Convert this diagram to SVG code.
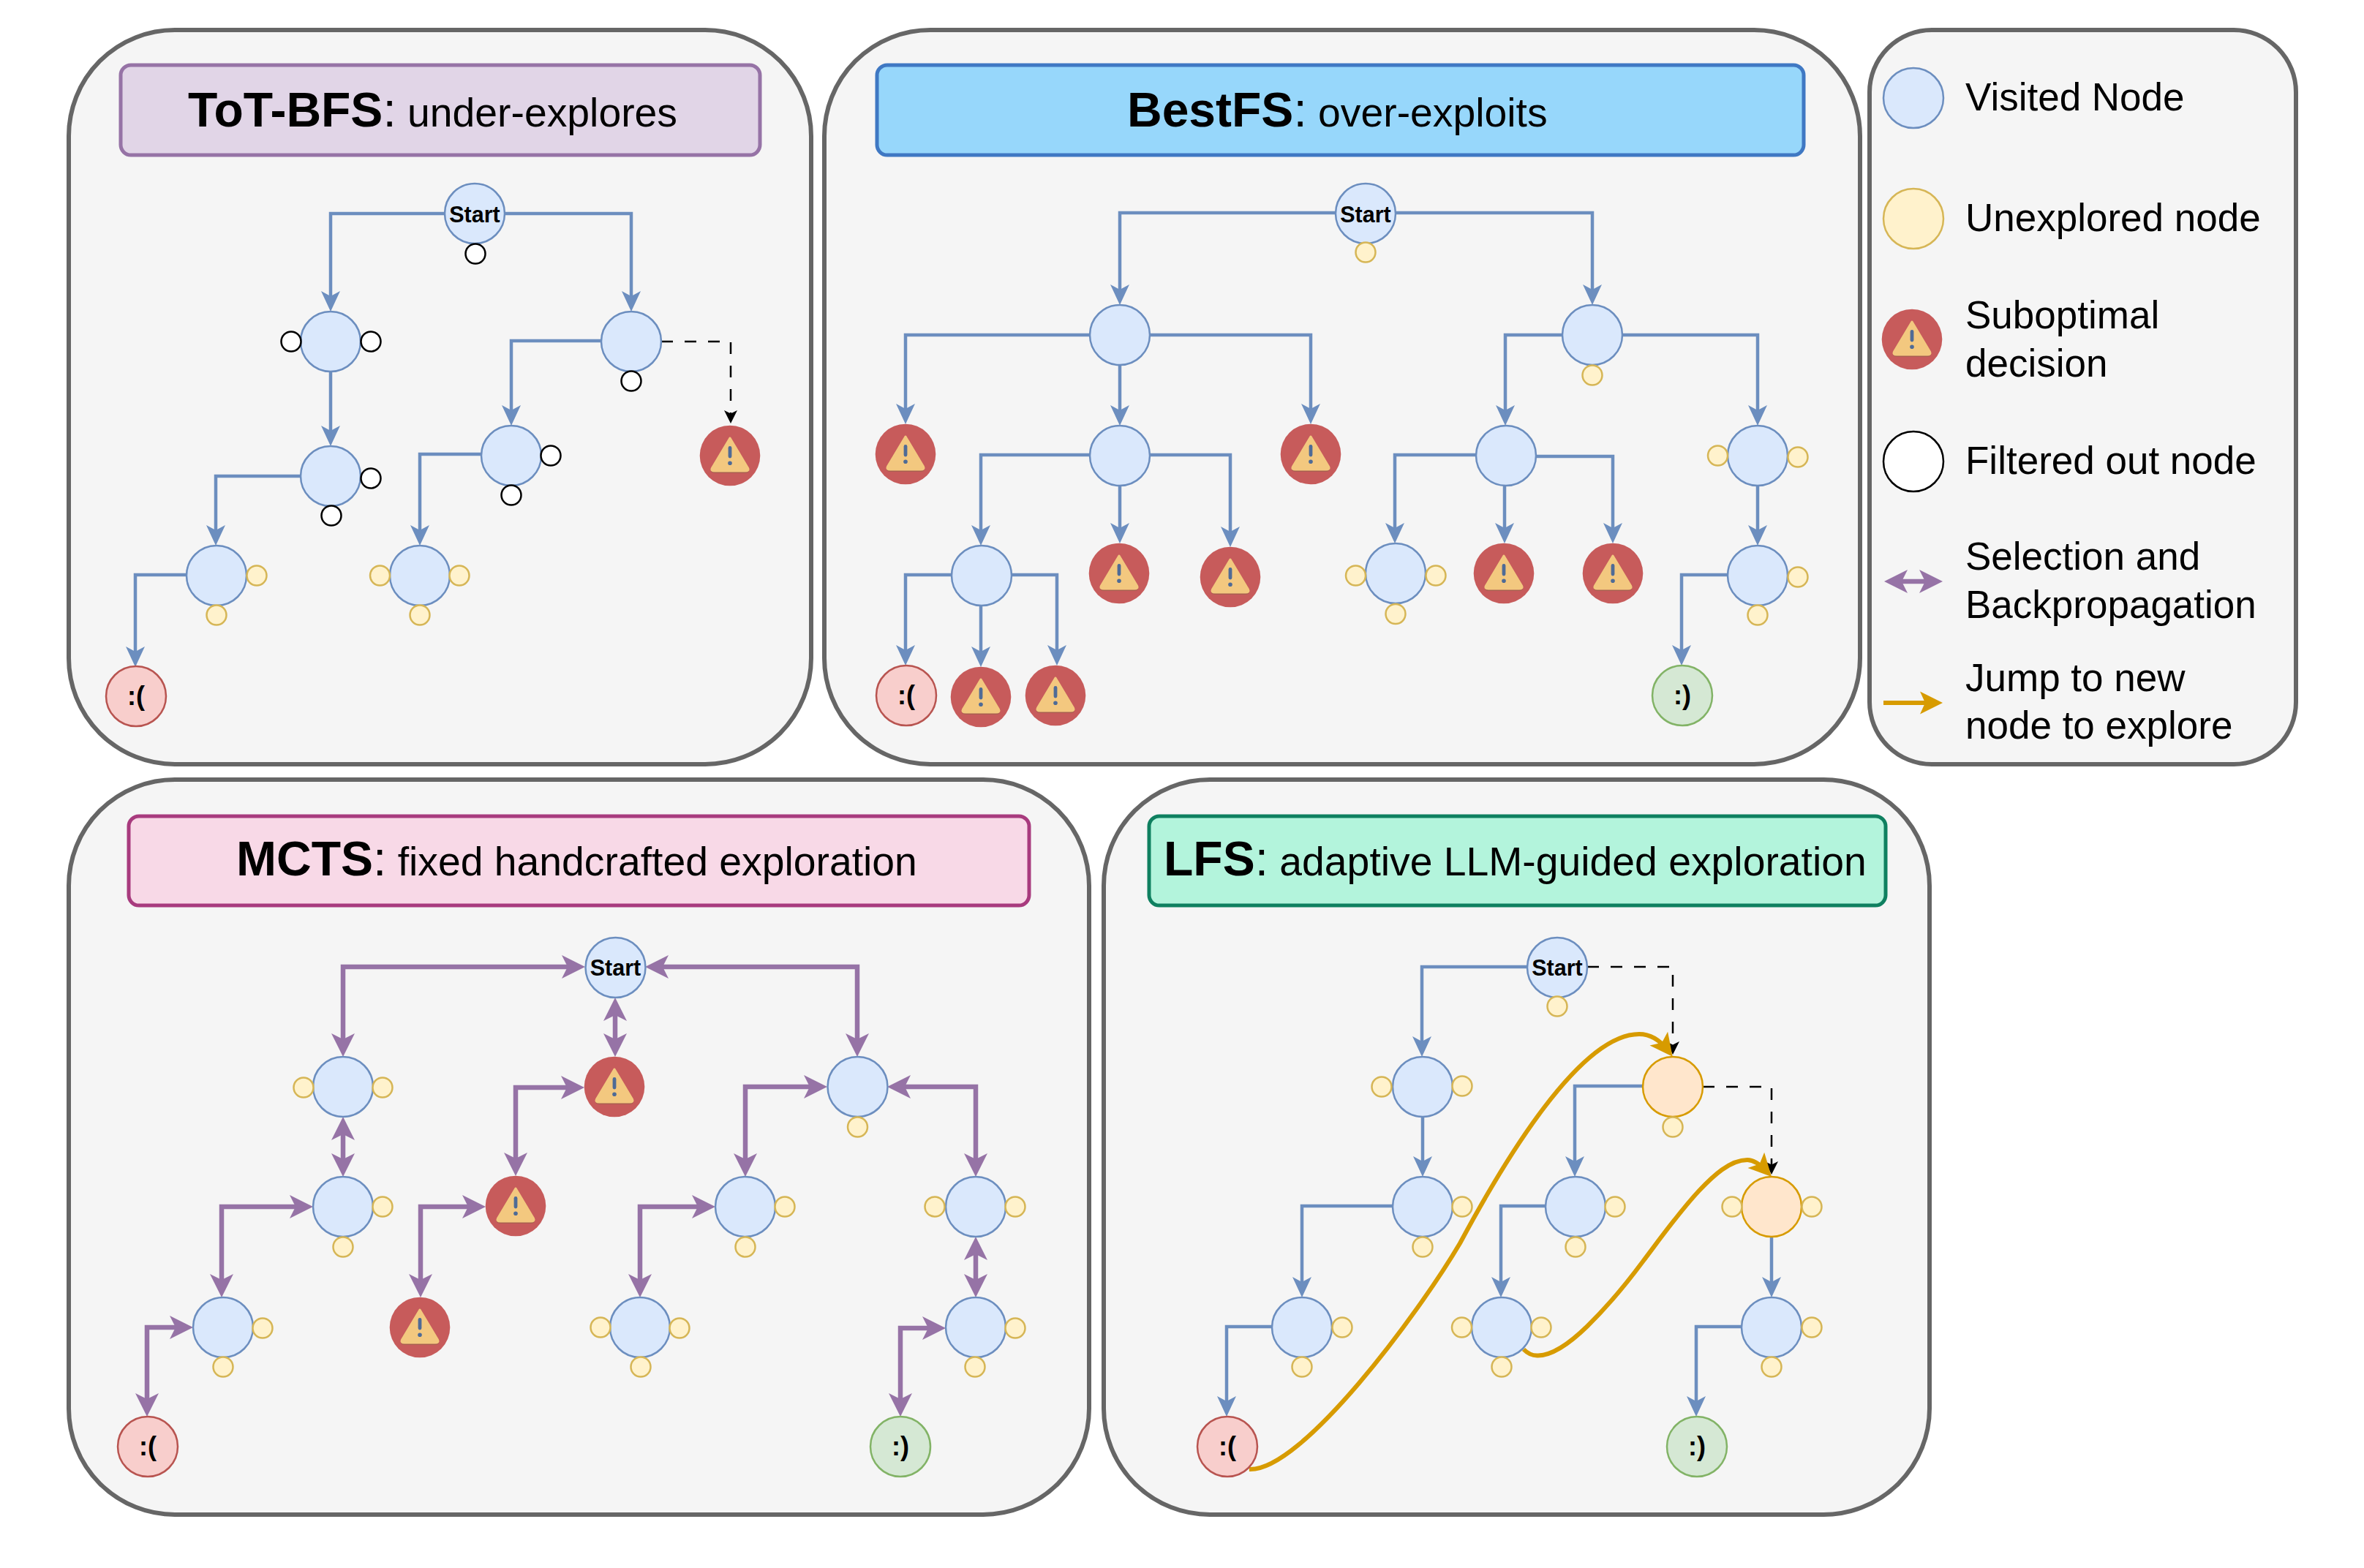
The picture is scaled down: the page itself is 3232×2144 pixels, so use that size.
<svg xmlns="http://www.w3.org/2000/svg" width="3232" height="2144" viewBox="0 0 3232 2144">
<style>
text{font-family:"Liberation Sans",Arial,sans-serif;fill:#000}
.panel{fill:#f5f5f5;stroke:#666;stroke-width:6}
.title{stroke-width:5}
.tb{font-size:66px;font-weight:700}
.tc{font-size:66px}
.tr{font-size:55.3px}
.v{fill:#dae8fc;stroke:#6c8ebf;stroke-width:2.5}
.u{fill:#fff2cc;stroke:#d6b656;stroke-width:2.5}
.f{fill:#fff;stroke:#000;stroke-width:2.5}
.o{fill:#ffe6cc;stroke:#d79b00;stroke-width:2.5}
.s{fill:#f8cecc;stroke:#b85450;stroke-width:2.5}
.h{fill:#d5e8d4;stroke:#82b366;stroke-width:2.5}
.lbl{font-size:30.5px;font-weight:700;text-anchor:middle}
.face{font-size:36px;font-weight:700;text-anchor:middle}
.leg{font-size:53px}
.b{fill:none;stroke:#6c8ebf;stroke-width:4.5;marker-end:url(#ab)}
.p{fill:none;stroke:#9673a6;stroke-width:6.5;marker-start:url(#ap);marker-end:url(#ap)}
.d{fill:none;stroke:#000;stroke-width:2.5;stroke-dasharray:16 16;marker-end:url(#ak)}
.g{fill:none;stroke:#d79b00;stroke-width:6;marker-end:url(#ag)}
</style>
<defs>
<marker id="ab" markerUnits="userSpaceOnUse" markerWidth="30" markerHeight="28" refX="20" refY="14" orient="auto"><path d="M1,1 L29,14 L1,27 L8,14 Z" fill="#6c8ebf"/></marker>
<marker id="ap" markerUnits="userSpaceOnUse" markerWidth="34" markerHeight="34" refX="22" refY="17" orient="auto-start-reverse"><path d="M1,1 L33,17 L1,33 L9,17 Z" fill="#9673a6"/></marker>
<marker id="ak" markerUnits="userSpaceOnUse" markerWidth="20" markerHeight="20" refX="14" refY="10" orient="auto"><path d="M1,1 L19,10 L1,19 L5.5,10 Z" fill="#000"/></marker>
<marker id="ag" markerUnits="userSpaceOnUse" markerWidth="33" markerHeight="33" refX="21" refY="16.5" orient="auto"><path d="M1,1 L32,16.5 L1,32 L8,16.5 Z" fill="#d79b00"/></marker>
<g id="warn">
<circle r="41.3" fill="#c75b5b"/>
<path d="M0,-24 L24.5,18 Q26.5,23 21,23 L-21,23 Q-26.5,23 -24.5,18 Z" fill="#a85e50" stroke="#a85e50" stroke-width="2" stroke-linejoin="round"/>
<path d="M0,-24 L24.5,17 Q26.5,21 21,21 L-21,21 Q-26.5,21 -24.5,17 Z" fill="#f3c87f" stroke="#f3c87f" stroke-width="3" stroke-linejoin="round"/>
<rect x="-2.4" y="-13" width="4.8" height="16.5" rx="2.4" fill="#4f6b96"/>
<circle cy="10.3" r="2.8" fill="#4f6b96"/>
</g>
</defs>
<rect width="3232" height="2144" fill="#fff"/>

<g id="panel-tot-bfs">
<rect class="panel" x="94" y="41" width="1015" height="1004" rx="145"/>
<rect class="title" x="165" y="89" width="874" height="123" rx="14" fill="#e1d5e7" stroke="#9673a6"/>
<text x="257" y="173"><tspan class="tb">ToT-BFS</tspan><tspan class="tc">:</tspan><tspan class="tr"> under-explores</tspan></text>
</g>
<g id="panel-bestfs">
<rect class="panel" x="1127" y="41" width="1416" height="1004" rx="145"/>
<rect class="title" x="1199" y="89" width="1267" height="123" rx="14" fill="#97d7fb" stroke="#3f78c3"/>
<text x="1541" y="173"><tspan class="tb">BestFS</tspan><tspan class="tc">:</tspan><tspan class="tr"> over-exploits</tspan></text>
</g>
<g id="panel-mcts">
<rect class="panel" x="94" y="1066" width="1395" height="1005" rx="145"/>
<rect class="title" x="176" y="1116" width="1231" height="122" rx="14" fill="#f8d9e7" stroke="#a83b7e"/>
<text x="323" y="1197"><tspan class="tb">MCTS</tspan><tspan class="tc">:</tspan><tspan class="tr"> fixed handcrafted exploration</tspan></text>
</g>
<g id="panel-lfs">
<rect class="panel" x="1509" y="1066" width="1129" height="1005" rx="145"/>
<rect class="title" x="1571" y="1116" width="1007" height="122" rx="14" fill="#b3f4dc" stroke="#0f8060"/>
<text x="1591" y="1197"><tspan class="tb">LFS</tspan><tspan class="tc">:</tspan><tspan class="tr"> adaptive LLM-guided exploration</tspan></text>
</g>
<g id="panel-legend">
<rect class="panel" x="2556" y="41" width="583" height="1004" rx="85"/>
</g>

<g id="connectors">
<!-- ToT-BFS -->
<path class="b" d="M608,292 H452 V417"/>
<path class="b" d="M690,292 H863 V417"/>
<path class="b" d="M452,508 V601"/>
<path class="b" d="M411,651 H295 V737"/>
<path class="b" d="M822,466 H699 V573"/>
<path class="b" d="M658,621 H574 V737"/>
<path class="b" d="M255,786 H185 V903"/>
<path class="d" d="M904,467 H999 V574"/>
<!-- BestFS -->
<path class="b" d="M1826,291 H1531 V408"/>
<path class="b" d="M1908,291 H2177 V408"/>
<path class="b" d="M1490,458 H1238 V571"/>
<path class="b" d="M1531,499 V573"/>
<path class="b" d="M1572,458 H1792 V571"/>
<path class="b" d="M2136,458 H2058 V573"/>
<path class="b" d="M2218,458 H2403 V573"/>
<path class="b" d="M1490,622 H1341 V737"/>
<path class="b" d="M1531,664 V734"/>
<path class="b" d="M1572,622 H1682 V739"/>
<path class="b" d="M2018,622 H1907 V734"/>
<path class="b" d="M2057,664 V734"/>
<path class="b" d="M2100,624 H2205 V734"/>
<path class="b" d="M2403,664 V737"/>
<path class="b" d="M1301,786 H1238 V901"/>
<path class="b" d="M1341,828 V903"/>
<path class="b" d="M1383,786 H1445 V901"/>
<path class="b" d="M2362,786 H2299 V901"/>
<!-- MCTS -->
<path class="p" d="M469,1434 V1322 H789"/>
<path class="p" d="M1172,1434 V1322 H893"/>
<path class="p" d="M841,1375 V1434"/>
<path class="p" d="M469,1538 V1598"/>
<path class="p" d="M303,1763 V1650 H417"/>
<path class="p" d="M705,1597 V1487 H788"/>
<path class="p" d="M575,1763 V1650 H653"/>
<path class="p" d="M1019,1598 V1486 H1120"/>
<path class="p" d="M1334,1598 V1486 H1224"/>
<path class="p" d="M875,1763 V1650 H967"/>
<path class="p" d="M1334,1702 V1763"/>
<path class="p" d="M201,1926 V1815 H253"/>
<path class="p" d="M1231,1926 V1816 H1282"/>
<!-- LFS -->
<path class="b" d="M2088,1322 H1944 V1436"/>
<path class="d" d="M2170,1322 H2287 V1437"/>
<path class="b" d="M1945,1527 V1600"/>
<path class="b" d="M1904,1649 H1780 V1765"/>
<path class="b" d="M2246,1485 H2153 V1600"/>
<path class="d" d="M2328,1486 H2422 V1601"/>
<path class="b" d="M2113,1649 H2052 V1765"/>
<path class="b" d="M2422,1691 V1765"/>
<path class="b" d="M2381,1814 H2319 V1928"/>
<path class="b" d="M1739,1814 H1677 V1928"/>
<path class="g" d="M1708,2009 C1780,2012 1940,1795 1996,1700 C2056,1588 2160,1414 2241,1414 C2257,1414 2270,1423 2280,1436"/>
<path class="g" d="M2083,1845 C2089,1851 2096,1854 2103,1853.5 C2125,1853 2150,1833 2170,1813.5 C2198,1786 2223,1756 2246,1725 C2271,1692 2295,1658 2323,1628 C2342,1608 2365,1586 2389,1586 C2398,1586 2407,1593 2414.5,1601"/>
<!-- legend -->
<path class="p" d="M2587,795 H2645"/>
<path class="g" d="M2575,961 H2645"/>
</g>

<!-- ToT-BFS nodes -->
<g id="t-start"><circle class="v" cx="649" cy="292" r="41"/><text class="lbl" x="649" y="304">Start</text></g>
<g id="t-start-f1"><circle class="f" cx="650" cy="347" r="13.5"/></g>
<g id="t-n1"><circle class="v" cx="452" cy="467" r="41"/></g>
<g id="t-n1-f1"><circle class="f" cx="398" cy="467" r="13.5"/></g>
<g id="t-n1-f2"><circle class="f" cx="507" cy="467" r="13.5"/></g>
<g id="t-n2"><circle class="v" cx="863" cy="467" r="41"/></g>
<g id="t-n2-f1"><circle class="f" cx="863" cy="521" r="13.5"/></g>
<g id="t-n3"><circle class="v" cx="452" cy="651" r="41"/></g>
<g id="t-n3-f1"><circle class="f" cx="507" cy="654" r="13.5"/></g>
<g id="t-n3-f2"><circle class="f" cx="453" cy="705" r="13.5"/></g>
<g id="t-n4"><circle class="v" cx="699" cy="623" r="41"/></g>
<g id="t-n4-f1"><circle class="f" cx="753" cy="623" r="13.5"/></g>
<g id="t-n4-f2"><circle class="f" cx="699" cy="677" r="13.5"/></g>
<g id="t-w1"><use href="#warn" x="998" y="623"/></g>
<g id="t-n5"><circle class="v" cx="296" cy="787" r="41"/></g>
<g id="t-n5-u1"><circle class="u" cx="351" cy="787" r="13.5"/></g>
<g id="t-n5-u2"><circle class="u" cx="296" cy="841" r="13.5"/></g>
<g id="t-n6"><circle class="v" cx="574" cy="787" r="41"/></g>
<g id="t-n6-u1"><circle class="u" cx="519.5" cy="787" r="13.5"/></g>
<g id="t-n6-u2"><circle class="u" cx="628" cy="787" r="13.5"/></g>
<g id="t-n6-u3"><circle class="u" cx="574" cy="841" r="13.5"/></g>
<g id="t-sad"><circle class="s" cx="186" cy="952" r="41"/><text class="face" x="186" y="964">:(</text></g>

<!-- BestFS nodes -->
<g id="b-start"><circle class="v" cx="1867" cy="292" r="41"/><text class="lbl" x="1867" y="304">Start</text></g>
<g id="b-start-u"><circle class="u" cx="1867" cy="345" r="13.5"/></g>
<g id="b-a"><circle class="v" cx="1531" cy="458" r="41"/></g>
<g id="b-b"><circle class="v" cx="2177" cy="458" r="41"/></g>
<g id="b-b-u"><circle class="u" cx="2177" cy="513" r="13.5"/></g>
<g id="b-w1"><use href="#warn" x="1238" y="621"/></g>
<g id="b-m"><circle class="v" cx="1531" cy="623" r="41"/></g>
<g id="b-w2"><use href="#warn" x="1792" y="621"/></g>
<g id="b-r1"><circle class="v" cx="2059" cy="623" r="41"/></g>
<g id="b-r2"><circle class="v" cx="2403" cy="623" r="41"/></g>
<g id="b-r2-u1"><circle class="u" cx="2348.5" cy="623" r="13.5"/></g>
<g id="b-r2-u2"><circle class="u" cx="2458" cy="625" r="13.5"/></g>
<g id="b-c"><circle class="v" cx="1342" cy="787" r="41"/></g>
<g id="b-w3"><use href="#warn" x="1530" y="784"/></g>
<g id="b-w4"><use href="#warn" x="1682" y="789"/></g>
<g id="b-d"><circle class="v" cx="1908" cy="784" r="41"/></g>
<g id="b-d-u1"><circle class="u" cx="1853.5" cy="787" r="13.5"/></g>
<g id="b-d-u2"><circle class="u" cx="1963" cy="787" r="13.5"/></g>
<g id="b-d-u3"><circle class="u" cx="1908" cy="839.5" r="13.5"/></g>
<g id="b-w5"><use href="#warn" x="2056" y="784"/></g>
<g id="b-w6"><use href="#warn" x="2205" y="784"/></g>
<g id="b-e"><circle class="v" cx="2403" cy="787" r="41"/></g>
<g id="b-e-u1"><circle class="u" cx="2458" cy="789" r="13.5"/></g>
<g id="b-e-u2"><circle class="u" cx="2403" cy="841" r="13.5"/></g>
<g id="b-sad"><circle class="s" cx="1239" cy="951" r="41"/><text class="face" x="1239" y="963">:(</text></g>
<g id="b-w7"><use href="#warn" x="1341" y="953"/></g>
<g id="b-w8"><use href="#warn" x="1443" y="951"/></g>
<g id="b-happy"><circle class="h" cx="2300" cy="951" r="41"/><text class="face" x="2300" y="963">:)</text></g>

<!-- MCTS nodes -->
<g id="m-start"><circle class="v" cx="841.5" cy="1323" r="41"/><text class="lbl" x="841.5" y="1334">Start</text></g>
<g id="m-n1"><circle class="v" cx="469" cy="1486" r="41"/></g>
<g id="m-n1-u1"><circle class="u" cx="415" cy="1487" r="13.5"/></g>
<g id="m-n1-u2"><circle class="u" cx="523" cy="1487" r="13.5"/></g>
<g id="m-w1"><use href="#warn" x="840" y="1486"/></g>
<g id="m-n2"><circle class="v" cx="1172.5" cy="1486" r="41"/></g>
<g id="m-n2-u"><circle class="u" cx="1172.5" cy="1541" r="13.5"/></g>
<g id="m-n3"><circle class="v" cx="469" cy="1650" r="41"/></g>
<g id="m-n3-u1"><circle class="u" cx="523" cy="1650" r="13.5"/></g>
<g id="m-n3-u2"><circle class="u" cx="469" cy="1705" r="13.5"/></g>
<g id="m-w2"><use href="#warn" x="705" y="1649"/></g>
<g id="m-n4"><circle class="v" cx="1019" cy="1650" r="41"/></g>
<g id="m-n4-u1"><circle class="u" cx="1073" cy="1650" r="13.5"/></g>
<g id="m-n4-u2"><circle class="u" cx="1019" cy="1705" r="13.5"/></g>
<g id="m-n5"><circle class="v" cx="1334" cy="1650" r="41"/></g>
<g id="m-n5-u1"><circle class="u" cx="1278" cy="1650" r="13.5"/></g>
<g id="m-n5-u2"><circle class="u" cx="1388" cy="1650" r="13.5"/></g>
<g id="m-n6"><circle class="v" cx="305" cy="1815" r="41"/></g>
<g id="m-n6-u1"><circle class="u" cx="359" cy="1816" r="13.5"/></g>
<g id="m-n6-u2"><circle class="u" cx="305" cy="1869" r="13.5"/></g>
<g id="m-w3"><use href="#warn" x="574" y="1815"/></g>
<g id="m-n7"><circle class="v" cx="875" cy="1815" r="41"/></g>
<g id="m-n7-u1"><circle class="u" cx="821" cy="1815" r="13.5"/></g>
<g id="m-n7-u2"><circle class="u" cx="929" cy="1816" r="13.5"/></g>
<g id="m-n7-u3"><circle class="u" cx="876" cy="1869" r="13.5"/></g>
<g id="m-n8"><circle class="v" cx="1334" cy="1815" r="41"/></g>
<g id="m-n8-u1"><circle class="u" cx="1388" cy="1816" r="13.5"/></g>
<g id="m-n8-u2"><circle class="u" cx="1333" cy="1869" r="13.5"/></g>
<g id="m-sad"><circle class="s" cx="202" cy="1978" r="41"/><text class="face" x="202" y="1990">:(</text></g>
<g id="m-happy"><circle class="h" cx="1231" cy="1978" r="41"/><text class="face" x="1231" y="1990">:)</text></g>

<!-- LFS nodes -->
<g id="l-start"><circle class="v" cx="2129" cy="1323" r="41"/><text class="lbl" x="2129" y="1334">Start</text></g>
<g id="l-start-u"><circle class="u" cx="2129" cy="1376" r="13.5"/></g>
<g id="l-n1"><circle class="v" cx="1945" cy="1486" r="41"/></g>
<g id="l-n1-u1"><circle class="u" cx="1889" cy="1486" r="13.5"/></g>
<g id="l-n1-u2"><circle class="u" cx="1999" cy="1485" r="13.5"/></g>
<g id="l-o1"><circle class="o" cx="2287" cy="1486" r="41"/></g>
<g id="l-o1-u"><circle class="u" cx="2287" cy="1541" r="13.5"/></g>
<g id="l-n2"><circle class="v" cx="1945" cy="1650" r="41"/></g>
<g id="l-n2-u1"><circle class="u" cx="1999" cy="1650" r="13.5"/></g>
<g id="l-n2-u2"><circle class="u" cx="1945" cy="1705" r="13.5"/></g>
<g id="l-n3"><circle class="v" cx="2154" cy="1650" r="41"/></g>
<g id="l-n3-u1"><circle class="u" cx="2208" cy="1650" r="13.5"/></g>
<g id="l-n3-u2"><circle class="u" cx="2154" cy="1705" r="13.5"/></g>
<g id="l-o2"><circle class="o" cx="2422" cy="1650" r="41"/></g>
<g id="l-o2-u1"><circle class="u" cx="2368" cy="1650" r="13.5"/></g>
<g id="l-o2-u2"><circle class="u" cx="2477" cy="1650" r="13.5"/></g>
<g id="l-n4"><circle class="v" cx="1780" cy="1815" r="41"/></g>
<g id="l-n4-u1"><circle class="u" cx="1835" cy="1815" r="13.5"/></g>
<g id="l-n4-u2"><circle class="u" cx="1780" cy="1869" r="13.5"/></g>
<g id="l-n5"><circle class="v" cx="2053" cy="1815" r="41"/></g>
<g id="l-n5-u1"><circle class="u" cx="1998.5" cy="1815" r="13.5"/></g>
<g id="l-n5-u2"><circle class="u" cx="2107" cy="1815" r="13.5"/></g>
<g id="l-n5-u3"><circle class="u" cx="2053" cy="1869" r="13.5"/></g>
<g id="l-n6"><circle class="v" cx="2422" cy="1815" r="41"/></g>
<g id="l-n6-u1"><circle class="u" cx="2477" cy="1815" r="13.5"/></g>
<g id="l-n6-u2"><circle class="u" cx="2422" cy="1869" r="13.5"/></g>
<g id="l-sad"><circle class="s" cx="1678" cy="1978" r="41"/><text class="face" x="1678" y="1990">:(</text></g>
<g id="l-happy"><circle class="h" cx="2320" cy="1978" r="41"/><text class="face" x="2320" y="1990">:)</text></g>

<!-- Legend entries -->
<g id="leg-visited"><circle class="v" cx="2616" cy="134" r="41"/><text class="leg" x="2687" y="151">Visited Node</text></g>
<g id="leg-unexplored"><circle class="u" cx="2616" cy="299" r="41"/><text class="leg" x="2687" y="316">Unexplored node</text></g>
<g id="leg-suboptimal"><use href="#warn" x="2614" y="464"/><text class="leg" x="2687" y="449">Suboptimal</text><text class="leg" x="2687" y="515">decision</text></g>
<g id="leg-filtered"><circle class="f" cx="2616" cy="631" r="41"/><text class="leg" x="2687" y="648">Filtered out node</text></g>
<g id="leg-selection"><text class="leg" x="2687" y="779">Selection and</text><text class="leg" x="2687" y="845">Backpropagation</text></g>
<g id="leg-jump"><text class="leg" x="2687" y="945">Jump to new</text><text class="leg" x="2687" y="1010">node to explore</text></g>
</svg>
